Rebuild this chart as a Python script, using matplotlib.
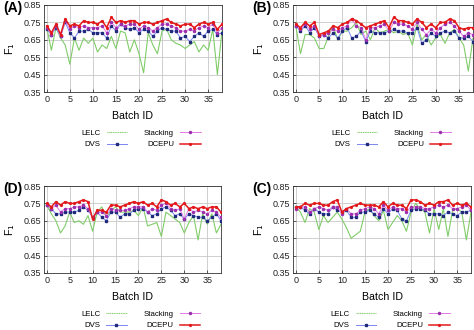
import matplotlib
matplotlib.use("Agg")
import matplotlib.pyplot as plt
from matplotlib.lines import Line2D
import numpy as np

plt.rcParams['font.family'] = ['Liberation Sans', 'DejaVu Sans']

batch = list(range(39))
series_names = ["LELC", "DVS", "Stacking", "DCEPU"]
panel_labels = ["(A)", "(B)", "(D)", "(C)"]
x_ticks = [0, 5, 10, 15, 20, 25, 30, 35]
y_ticks = [0.35, 0.45, 0.55, 0.65, 0.75, 0.85]

# Panel A
a_lelc = [0.72, 0.59, 0.72, 0.66, 0.62, 0.51, 0.66, 0.59, 0.66, 0.63, 0.66, 0.58, 0.62, 0.60, 0.67, 0.60, 0.70, 0.69, 0.58, 0.65,
          0.57, 0.46, 0.69, 0.62, 0.57, 0.70, 0.71, 0.65, 0.63, 0.62, 0.60, 0.62, 0.64, 0.58, 0.62, 0.59, 0.71, 0.45, 0.70]
a_dvs = [0.71, 0.68, 0.72, 0.67, 0.75, 0.69, 0.66, 0.70, 0.70, 0.71, 0.69, 0.69, 0.69, 0.66, 0.73, 0.70, 0.74, 0.72, 0.71, 0.72,
         0.69, 0.71, 0.70, 0.67, 0.70, 0.72, 0.71, 0.70, 0.70, 0.66, 0.67, 0.64, 0.67, 0.69, 0.67, 0.70, 0.71, 0.68, 0.69]
a_stack = [0.72, 0.68, 0.73, 0.67, 0.76, 0.71, 0.73, 0.72, 0.73, 0.72, 0.72, 0.72, 0.73, 0.69, 0.75, 0.72, 0.74, 0.73, 0.74, 0.74,
           0.71, 0.73, 0.72, 0.70, 0.72, 0.74, 0.74, 0.73, 0.72, 0.70, 0.70, 0.71, 0.70, 0.72, 0.73, 0.72, 0.74, 0.69, 0.72]
a_dcepu = [0.73, 0.69, 0.74, 0.68, 0.77, 0.73, 0.74, 0.73, 0.76, 0.75, 0.75, 0.74, 0.76, 0.72, 0.78, 0.75, 0.76, 0.75, 0.76, 0.76,
           0.74, 0.75, 0.75, 0.74, 0.75, 0.76, 0.77, 0.75, 0.74, 0.73, 0.74, 0.74, 0.72, 0.74, 0.75, 0.74, 0.75, 0.71, 0.74]

# Panel B
b_lelc = [0.73, 0.57, 0.68, 0.68, 0.66, 0.60, 0.60, 0.67, 0.73, 0.65, 0.70, 0.70, 0.72, 0.75, 0.68, 0.70, 0.65, 0.72, 0.69, 0.70,
          0.71, 0.69, 0.70, 0.68, 0.69, 0.62, 0.74, 0.65, 0.68, 0.62, 0.66, 0.68, 0.63, 0.69, 0.71, 0.66, 0.62, 0.47, 0.66]
b_dvs = [0.73, 0.70, 0.73, 0.69, 0.72, 0.67, 0.68, 0.66, 0.69, 0.66, 0.70, 0.72, 0.66, 0.67, 0.70, 0.64, 0.70, 0.69, 0.69, 0.69,
         0.70, 0.71, 0.70, 0.70, 0.69, 0.69, 0.72, 0.63, 0.65, 0.69, 0.67, 0.69, 0.70, 0.69, 0.70, 0.66, 0.66, 0.67, 0.64]
b_stack = [0.73, 0.71, 0.74, 0.71, 0.73, 0.67, 0.68, 0.69, 0.71, 0.70, 0.72, 0.73, 0.77, 0.73, 0.72, 0.65, 0.72, 0.72, 0.73, 0.74,
           0.70, 0.75, 0.74, 0.74, 0.73, 0.71, 0.75, 0.71, 0.68, 0.71, 0.69, 0.72, 0.74, 0.75, 0.73, 0.70, 0.67, 0.69, 0.68]
b_dcepu = [0.74, 0.72, 0.75, 0.73, 0.75, 0.68, 0.69, 0.70, 0.73, 0.72, 0.74, 0.75, 0.77, 0.76, 0.74, 0.72, 0.73, 0.74, 0.75, 0.76,
           0.72, 0.78, 0.76, 0.76, 0.75, 0.74, 0.77, 0.75, 0.72, 0.74, 0.72, 0.75, 0.75, 0.77, 0.76, 0.72, 0.71, 0.72, 0.72]

# Panel D
d_lelc = [0.74, 0.69, 0.65, 0.58, 0.62, 0.70, 0.64, 0.65, 0.63, 0.68, 0.59, 0.70, 0.73, 0.67, 0.71, 0.73, 0.70, 0.70, 0.70, 0.71,
          0.68, 0.73, 0.62, 0.63, 0.64, 0.56, 0.70, 0.68, 0.66, 0.64, 0.58, 0.64, 0.68, 0.54, 0.69, 0.63, 0.69, 0.58, 0.63]
d_dvs = [0.74, 0.72, 0.69, 0.69, 0.70, 0.70, 0.70, 0.71, 0.73, 0.71, 0.67, 0.70, 0.67, 0.65, 0.70, 0.70, 0.67, 0.69, 0.69, 0.71,
         0.72, 0.72, 0.70, 0.68, 0.69, 0.72, 0.73, 0.71, 0.68, 0.69, 0.66, 0.69, 0.68, 0.67, 0.67, 0.65, 0.67, 0.69, 0.65]
d_stack = [0.74, 0.72, 0.74, 0.70, 0.72, 0.72, 0.73, 0.73, 0.74, 0.72, 0.67, 0.70, 0.70, 0.68, 0.72, 0.71, 0.71, 0.71, 0.72, 0.73,
           0.73, 0.73, 0.70, 0.72, 0.71, 0.74, 0.75, 0.72, 0.71, 0.72, 0.66, 0.72, 0.70, 0.71, 0.70, 0.69, 0.71, 0.70, 0.67]
d_dcepu = [0.75, 0.73, 0.76, 0.74, 0.76, 0.75, 0.75, 0.76, 0.77, 0.76, 0.66, 0.71, 0.71, 0.70, 0.74, 0.74, 0.73, 0.74, 0.75, 0.76,
           0.75, 0.76, 0.74, 0.75, 0.73, 0.77, 0.76, 0.74, 0.75, 0.73, 0.75, 0.72, 0.73, 0.72, 0.73, 0.72, 0.73, 0.73, 0.70]

# Panel C
c_lelc = [0.73, 0.70, 0.64, 0.72, 0.70, 0.60, 0.68, 0.64, 0.67, 0.70, 0.66, 0.61, 0.55, 0.57, 0.59, 0.70, 0.72, 0.68, 0.65, 0.71,
          0.60, 0.64, 0.68, 0.65, 0.59, 0.70, 0.75, 0.72, 0.70, 0.58, 0.72, 0.60, 0.72, 0.56, 0.71, 0.72, 0.70, 0.54, 0.70]
c_dvs = [0.73, 0.73, 0.71, 0.69, 0.72, 0.70, 0.69, 0.69, 0.73, 0.71, 0.70, 0.71, 0.67, 0.67, 0.70, 0.70, 0.71, 0.69, 0.67, 0.72,
         0.69, 0.72, 0.71, 0.66, 0.65, 0.71, 0.72, 0.72, 0.71, 0.69, 0.69, 0.69, 0.68, 0.70, 0.69, 0.68, 0.70, 0.70, 0.71]
c_stack = [0.72, 0.73, 0.73, 0.70, 0.72, 0.73, 0.72, 0.71, 0.73, 0.73, 0.69, 0.72, 0.69, 0.69, 0.71, 0.72, 0.73, 0.72, 0.69, 0.74,
           0.71, 0.73, 0.72, 0.72, 0.70, 0.73, 0.73, 0.73, 0.72, 0.72, 0.73, 0.74, 0.73, 0.74, 0.72, 0.72, 0.73, 0.74, 0.71]
c_dcepu = [0.73, 0.73, 0.75, 0.74, 0.75, 0.75, 0.74, 0.74, 0.76, 0.77, 0.70, 0.72, 0.73, 0.74, 0.75, 0.74, 0.74, 0.74, 0.73, 0.76,
           0.73, 0.75, 0.74, 0.74, 0.72, 0.77, 0.77, 0.76, 0.74, 0.75, 0.74, 0.76, 0.76, 0.77, 0.74, 0.75, 0.74, 0.75, 0.73]

panels = [
    (a_lelc, a_dvs, a_stack, a_dcepu),
    (b_lelc, b_dvs, b_stack, b_dcepu),
    (d_lelc, d_dvs, d_stack, d_dcepu),
    (c_lelc, c_dvs, c_stack, c_dcepu),
]

W, H = 474, 330
fig = plt.figure(figsize=(W / 100, H / 100), dpi=100)

# pixel boxes: (x0, x1, ytop, ybottom)
boxes = [(44, 222, 5, 92), (293, 473, 5, 92), (44, 221, 186, 273), (293, 471, 186, 273)]

green = "#80cc68"
blue_line = "#7b86f2"
blue_mk = "#1f2a7a"
mag_line = "#e27be6"
mag_mk = "#9b2fae"
red = "#e3191c"

for i, ((x0, x1, yt, yb), (lelc, dvs, stack, dcepu)) in enumerate(zip(boxes, panels)):
    ax = fig.add_axes([x0 / W, 1 - yb / H, (x1 - x0) / W, (yb - yt) / H])
    ax.plot(batch, lelc, color=green, lw=0.8, zorder=2)
    ax.plot(batch, dvs, color=blue_line, lw=0.7, marker="s", ms=1.8,
            mfc=blue_mk, mec=blue_mk, zorder=3)
    ax.plot(batch, stack, color=mag_line, lw=0.7, marker="o", ms=1.5,
            mfc=mag_mk, mec=mag_mk, zorder=4)
    ax.plot(batch, dcepu, color=red, lw=1.1, marker="o", ms=1.3,
            mfc=red, mec=red, zorder=5)
    ax.set_xlim(-0.6, 38)
    ax.set_ylim(0.35, 0.85)
    ax.set_xticks(x_ticks)
    ax.set_yticks(y_ticks)
    ax.set_yticklabels([f"{v:.2f}" for v in y_ticks])
    ax.tick_params(direction="in", length=2, width=0.5, labelsize=6.5,
                   colors="#222222", pad=2)
    ax.grid(True, color="#c8c8c8", lw=0.6)
    ax.set_axisbelow(True)
    for s in ax.spines.values():
        s.set_linewidth(0.6)
        s.set_color("#333333")
    ax.set_xlabel("Batch ID", fontsize=7.7, labelpad=5)
    ax.set_ylabel("F$_1$", fontsize=7.7, labelpad=5)
    fig.text((x0 - 41) / W, 1 - (yt + 3) / H, panel_labels[i],
             fontsize=10, fontweight="bold", ha="left", va="center")

    handles = [
        Line2D([], [], color=green, lw=0.8, ls=(0, (1, 0.6))),
        Line2D([], [], color=blue_line, lw=0.7, marker="s", ms=1.8, mfc=blue_mk, mec=blue_mk),
        Line2D([], [], color=mag_line, lw=0.7, marker="o", ms=1.5, mfc=mag_mk, mec=mag_mk),
        Line2D([], [], color=red, lw=1.1, marker="o", ms=1.3, mfc=red, mec=red),
    ]
    cx = (x0 + x1) / 2 + 8
    ly = yb + 47
    fig.legend(handles, series_names, loc="center",
               bbox_to_anchor=(cx / W, 1 - ly / H), ncol=2, frameon=False,
               markerfirst=False, fontsize=5.6, handlelength=2.6,
               columnspacing=2.2, labelspacing=0.5, handletextpad=0.8,
               borderpad=0.1)

fig.savefig("out.png", dpi=100)
